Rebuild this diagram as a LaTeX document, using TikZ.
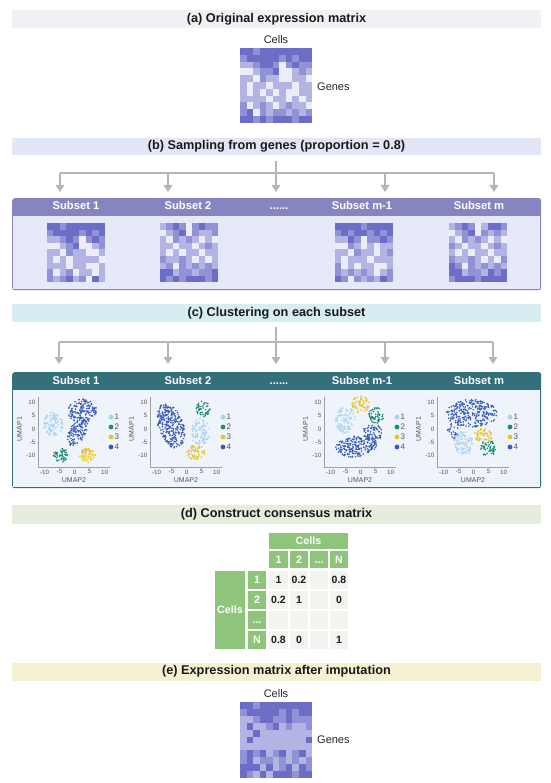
\documentclass[tikz,border=0pt]{standalone}
\usepackage{fontspec}
\setmainfont{Liberation Sans}
\usetikzlibrary{arrows.meta}
\definecolor{barA}{HTML}{F2EFF5}
\definecolor{barB}{HTML}{E3E6F7}
\definecolor{bhead}{HTML}{8785C0}
\definecolor{bbody}{HTML}{E6E9F8}
\definecolor{barC}{HTML}{D8EDF2}
\definecolor{chead}{HTML}{346F7C}
\definecolor{cbody}{HTML}{EEF4FA}
\definecolor{barD}{HTML}{E6EDDC}
\definecolor{dgreen}{HTML}{8FC47B}
\definecolor{dcell}{HTML}{F2F4EF}
\definecolor{barE}{HTML}{F4F1D3}
\definecolor{conncol}{HTML}{B5B5B5}
\definecolor{hm0}{HTML}{ECEDF9}
\definecolor{hm1}{HTML}{B3B4E4}
\definecolor{hm2}{HTML}{9192D6}
\definecolor{hm3}{HTML}{6C6DC7}
\definecolor{cl1}{HTML}{A9D3F3}
\definecolor{cl2}{HTML}{1E8C73}
\definecolor{cl3}{HTML}{E9C425}
\definecolor{cl4}{HTML}{3A5CB6}
\definecolor{axcol}{HTML}{A0A0A0}
\definecolor{tickcol}{HTML}{555555}

\newcommand\heat[5]{%
  \foreach \row [count=\r] in {#5} {%
    \foreach \v [count=\c] in \row {%
      \fill[hm\v] ({#1+(\c-1)*#3},{#2+(\r-1)*#4}) rectangle ++({#3+0.05},{#4+0.05});
    }}}

\newcommand\clus[8]{%
  \foreach \k in {1,...,#7}{%
    \pgfmathsetmacro\rr{sqrt(rnd)}%
    \pgfmathsetmacro\aa{360*rnd}%
    \pgfmathsetmacro\ux{#4*\rr*cos(\aa)}%
    \pgfmathsetmacro\uy{#5*\rr*sin(\aa)}%
    \pgfmathsetmacro\px{#1+3*(#2+\ux*cos(#6)-\uy*sin(#6))}%
    \pgfmathsetmacro\py{429-2.66*(#3+\ux*sin(#6)+\uy*cos(#6))}%
    \fill[#8] (\px,\py) circle (0.9);
  }}

\newcommand\umapaxes[2]{%
  \draw[axline] (#1,397) -- (#1,467) -- ({#1+72},467);
  \foreach \v [count=\k] in {10,5,0,-5,-10} {%
    \node[tick, anchor=east] (yt#2\k) at ({#1-2.5},{429-2.66*\v}) {\v};
    \node[tick, anchor=north] (xt#2\k) at ({#1+36.5-3*\v},469.5) {\the\numexpr-\v\relax};
  }
  \node[axlab, rotate=90] (ya#2) at ({#1-18.5},429) {UMAP1};
  \node[axlab] (xa#2) at ({#1+36},480.5) {UMAP2};
  \foreach \c [count=\k] in {1,2,3,4} {%
    \fill[cl\c] ({#1+73},{407+10*\k}) circle (2.4);
    \node[leg, anchor=west] (lg#2\k) at ({#1+76.5},{407+10*\k}) {\c};
  }}

\begin{document}
\begin{tikzpicture}[x=1pt,y=-1pt,
  titlebar/.style={minimum width=529pt, minimum height=18pt, inner sep=0pt,
    font=\fontsize{12.7}{14}\selectfont\bfseries, text=black!90},
  lbl/.style={font=\fontsize{11}{13}\selectfont, inner sep=0pt, text=black!85},
  conn/.style={draw=conncol, line width=2pt},
  arr/.style={conn, -{Triangle[width=8.5pt,length=7pt]}},
  hdrlabel/.style={text=white, font=\fontsize{11.2}{13}\selectfont\bfseries, inner sep=0pt,
    text height=8pt, text depth=2pt},
  axline/.style={draw=axcol, line width=0.7pt},
  tick/.style={font=\fontsize{6.2}{7}\selectfont, text=tickcol, inner sep=0pt},
  axlab/.style={font=\fontsize{7}{8}\selectfont, text=tickcol, inner sep=0pt},
  leg/.style={font=\fontsize{8}{9}\selectfont, text=tickcol, inner sep=0pt},
  gbox/.style={fill=dgreen, inner sep=0pt, text=white, font=\fontsize{10.7}{12}\selectfont\bfseries,
    text height=7.7pt, text depth=0pt},
  dval/.style={fill=dcell, inner sep=0pt, minimum width=18.5pt, minimum height=18pt},
  vtxt/.style={font=\fontsize{10.5}{12}\selectfont\bfseries, inner sep=0pt, text=black!90},
]
\useasboundingbox (0,0) rectangle (550,783);
\fill[white] (0,0) rectangle (550,783);
\pgfmathsetseed{11}

% ---------------- (a)
\node[titlebar, fill=barA] (ta) at (276.5,19) {(a) Original expression matrix};
\node[lbl] (acells) at (276,40) {Cells};
\heat{240}{48}{6.55}{6.8}{{3,3,2,3,3,3,3,3,3,3,3},{2,3,3,3,3,3,2,3,2,3,3},{1,1,2,3,3,2,0,2,3,2,2},{0,0,1,2,2,3,0,0,1,2,1},{1,1,0,2,1,1,0,0,1,1,0},{1,0,1,1,0,1,1,1,0,1,1},{1,0,1,0,1,0,1,0,0,1,1},{1,1,1,1,0,1,1,0,1,0,1},{2,0,1,2,1,0,1,2,1,1,0},{2,3,0,2,1,2,2,1,2,1,2},{3,3,2,3,2,3,3,3,2,3,3}}
\node[lbl, anchor=west] (agenes) at (317,87) {Genes};

% ---------------- (b)
\node[titlebar, fill=barB, minimum height=17pt] (tb) at (276.5,146.5) {(b) Sampling from genes (proportion = 0.8)};
\coordinate (bs) at (276,161);
\coordinate (bl) at (60,173);
\coordinate (br) at (494,173);
\foreach \x [count=\i] in {60,168,276,385,494} { \coordinate (bt\i) at (\x,192); }
\draw[conn] (bl) -- (br);
\draw[arr] (bs) -- (bt3);
\draw[arr] (bl) -- (bt1);
\draw[arr] (bl -| bt2) -- (bt2);
\draw[arr] (bl -| bt4) -- (bt4);
\draw[arr] (br) -- (bt5);

\node[fill=bhead, rounded corners=2.5pt, minimum width=529pt, minimum height=92pt, inner sep=0pt, anchor=north west] (bbox) at (12,198) {};
\fill[bbody] (13.4,216) rectangle (539.6,288.6);
\node[hdrlabel] (bh1) at (76,207) {Subset 1};
\node[hdrlabel] (bh2) at (188,207) {Subset 2};
\node[hdrlabel] (bh3) at (279,207) {......};
\node[hdrlabel] (bh4) at (362,207) {Subset m-1};
\node[hdrlabel] (bh5) at (479,207) {Subset m};

\heat{47}{223}{6.45}{6.6}{{3,3,2,3,3,3,3,3,3},{2,3,3,3,3,2,3,2,3},{1,1,2,3,2,0,2,3,2},{0,0,1,2,3,0,0,1,2},{1,1,0,2,1,1,0,0,1},{1,0,1,0,1,1,1,1,0},{1,1,1,0,1,1,0,0,1},{2,0,1,2,0,1,1,0,1},{2,1,2,3,1,2,0,3,1}}
\heat{160}{223}{6.45}{6.6}{{1,2,3,2,0,2,3,2,2},{0,1,2,3,0,2,1,1,2},{1,0,2,1,2,1,0,1,0},{1,1,0,1,1,0,1,2,1},{1,0,1,0,1,1,0,1,1},{2,1,1,2,1,0,1,0,1},{1,2,0,2,1,2,1,2,1},{3,3,1,2,2,1,2,2,3},{3,2,3,2,3,3,3,2,3}}
\heat{335}{223}{6.45}{6.6}{{3,3,3,3,2,3,3,3,3},{2,3,2,3,3,2,3,2,3},{1,1,3,2,0,2,2,3,2},{0,0,2,1,0,1,0,1,1},{1,1,0,2,1,1,0,1,2},{1,0,1,1,1,0,1,1,1},{2,0,1,0,1,1,0,0,1},{2,1,2,1,2,1,0,1,2},{3,2,0,2,1,2,1,3,2}}
\heat{449}{223}{6.45}{6.6}{{1,2,3,2,0,1,3,3,2},{0,1,2,3,0,2,1,2,1},{1,0,2,1,2,1,0,1,0},{2,1,0,1,1,0,1,2,1},{1,0,1,0,1,1,0,1,1},{2,1,1,2,1,0,1,0,2},{3,2,0,2,1,2,1,2,1},{3,3,1,2,2,1,3,2,3},{2,3,3,3,2,3,3,3,3}}

% ---------------- (c)
\node[titlebar, fill=barC] (tc) at (276.5,313) {(c) Clustering on each subset};
\coordinate (cs) at (276,327);
\coordinate (cl) at (59,342);
\coordinate (cr) at (493,342);
\foreach \x [count=\i] in {59,168,276,385,493} { \coordinate (ct\i) at (\x,364); }
\draw[conn] (cl) -- (cr);
\draw[arr] (cs) -- (ct3);
\draw[arr] (cl) -- (ct1);
\draw[arr] (cl -| ct2) -- (ct2);
\draw[arr] (cl -| ct4) -- (ct4);
\draw[arr] (cr) -- (ct5);

\node[fill=chead, rounded corners=2.5pt, minimum width=529pt, minimum height=116pt, inner sep=0pt, anchor=north west] (cbox) at (12,372) {};
\fill[cbody] (13.4,390) rectangle (539.6,486.6);
\node[hdrlabel] (ch1) at (76,381) {Subset 1};
\node[hdrlabel] (ch2) at (188,381) {Subset 2};
\node[hdrlabel] (ch3) at (279,381) {......};
\node[hdrlabel] (ch4) at (362,381) {Subset m-1};
\node[hdrlabel] (ch5) at (479,381) {Subset m};

% plot 1
\umapaxes{38}{A}
\clus{74.5}{-7.2}{1.7}{3.4}{4.7}{0}{95}{cl1}
\clus{74.5}{2.6}{6.6}{4.8}{4.6}{0}{150}{cl4}
\clus{74.5}{1.0}{-1.2}{2.8}{5.4}{-25}{110}{cl4}
\clus{74.5}{-4.5}{-9.8}{2.5}{2.7}{0}{55}{cl2}
\clus{74.5}{4.2}{-9.8}{2.8}{2.7}{0}{60}{cl3}
% plot 2
\umapaxes{150}{B}
\clus{186.5}{-5.2}{1.2}{4.2}{8.6}{15}{280}{cl4}
\clus{186.5}{5.5}{7.5}{2.4}{3}{0}{50}{cl2}
\clus{186.5}{4.5}{-1}{3.2}{5}{0}{100}{cl1}
\clus{186.5}{3}{-9}{3}{3}{0}{60}{cl3}
% plot m-1
\umapaxes{324}{C}
\clus{360.5}{0}{9.3}{3}{3.2}{0}{60}{cl3}
\clus{360.5}{-5}{3.4}{3.3}{5}{0}{100}{cl1}
\clus{360.5}{5.3}{5}{2.7}{3}{0}{55}{cl2}
\clus{360.5}{-1.5}{-6.5}{7}{4}{10}{200}{cl4}
\clus{360.5}{4}{-1.5}{3.3}{3.3}{0}{70}{cl4}
% plot m
\umapaxes{437}{D}
\clus{473.5}{-0.5}{5.8}{8.5}{5.3}{0}{280}{cl4}
\clus{473.5}{-7}{-1}{2}{3}{0}{25}{cl4}
\clus{473.5}{-3.5}{-5.5}{3.3}{4.5}{0}{95}{cl1}
\clus{473.5}{3.3}{-2.3}{3}{2.9}{0}{60}{cl3}
\clus{473.5}{5}{-7.3}{2.7}{3}{0}{55}{cl2}

% ---------------- (d)
\node[titlebar, fill=barD, minimum height=19pt] (td) at (276.5,514.5) {(d) Construct consensus matrix};
\node[gbox, minimum width=79pt, minimum height=16pt] (dcol) at (308.5,541) {Cells};
\foreach \x/\t [count=\i] in {278.5/1,299/2,319/{...},339/N} {
  \node[gbox, minimum width=18.5pt, minimum height=17pt] (dc\i) at (\x,559.5) {\t};
}
\foreach \y/\t [count=\i] in {580/1,600/2,620/{...},640/N} {
  \node[gbox, minimum width=18pt, minimum height=18pt] (dr\i) at (257,\y) {\t};
}
\node[gbox, minimum width=30pt, minimum height=78pt] (drow) at (230,610) {Cells};
\foreach \y [count=\j] in {580,600,620,640} {
  \foreach \x [count=\i] in {278.5,299,319,339} {
    \node[dval] (d\j\i) at (\x,\y) {};
  }
}
\node[vtxt] (v11) at (d11) {1};
\node[vtxt] (v12) at (d12) {0.2};
\node[vtxt] (v14) at (d14) {0.8};
\node[vtxt] (v21) at (d21) {0.2};
\node[vtxt] (v22) at (d22) {1};
\node[vtxt] (v24) at (d24) {0};
\node[vtxt] (v41) at (d41) {0.8};
\node[vtxt] (v42) at (d42) {0};
\node[vtxt] (v44) at (d44) {1};

% ---------------- (e)
\node[titlebar, fill=barE] (te) at (276.5,671.5) {(e) Expression matrix after imputation};
\node[lbl] (ecells) at (276,694) {Cells};
\heat{240}{702}{6.55}{6.9}{{3,3,2,3,3,3,3,3,3,3,3},{2,3,3,3,3,3,2,3,2,3,3},{1,1,2,3,3,2,2,3,2,2,2},{1,3,1,1,2,3,1,2,1,1,2},{1,1,3,1,1,1,1,1,1,1,1},{1,3,1,1,1,1,1,1,1,1,3},{1,1,1,1,1,1,1,1,1,1,1},{2,3,2,3,1,2,3,1,2,3,1},{2,3,1,2,2,1,2,1,2,1,2},{3,3,3,1,3,1,2,3,1,3,2},{3,2,1,3,1,3,3,3,2,3,3}}
\node[lbl, anchor=west] (egenes) at (317,740) {Genes};
\end{tikzpicture}
\end{document}
